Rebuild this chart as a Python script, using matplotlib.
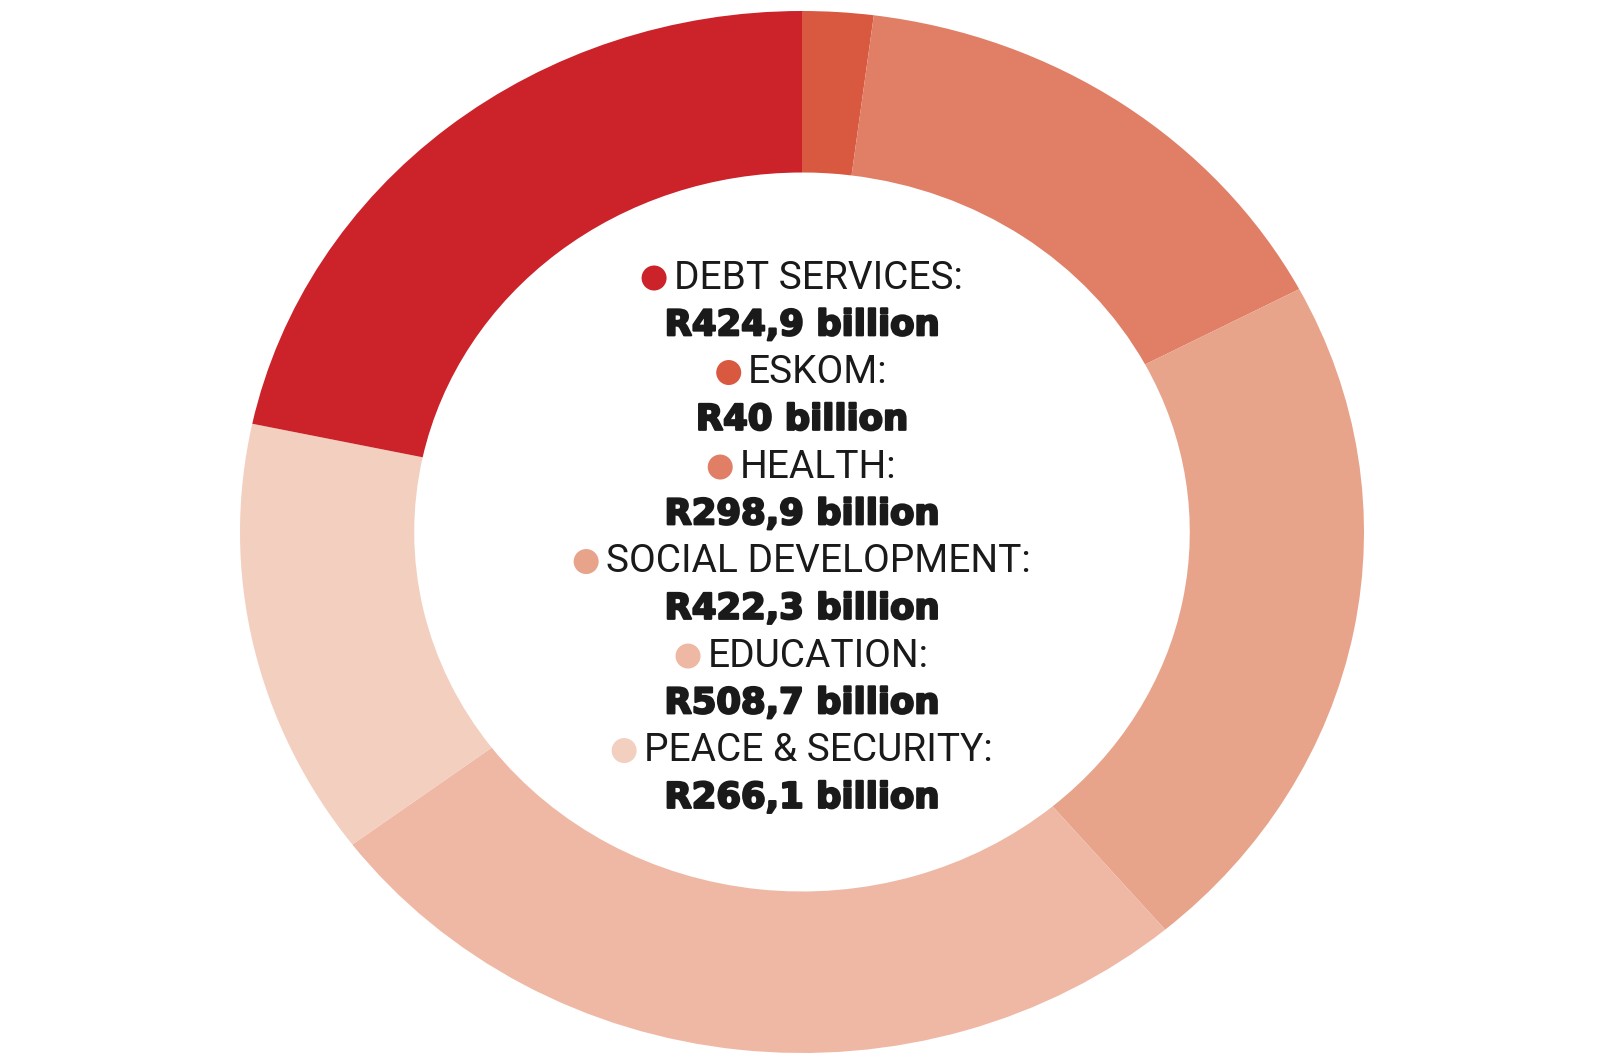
import matplotlib
matplotlib.use("Agg")
import matplotlib.pyplot as plt
import matplotlib.patheffects as pe
from matplotlib.offsetbox import DrawingArea, TextArea, HPacker, AnnotationBbox
from matplotlib.patches import Circle

# budget items in legend order
labels = ["DEBT SERVICES:", "ESKOM:", "HEALTH:", "SOCIAL DEVELOPMENT:",
          "EDUCATION:", "PEACE & SECURITY:"]
amounts = [424.9, 40, 298.9, 422.3, 508.7, 266.1]   # R billion
colors = ["#CC2229", "#D95840", "#E07E66", "#E8A38B", "#EFB8A4", "#F3CFC0"]

# ring order, clockwise from 12 o'clock: Eskom ... Debt
ring = [1, 2, 3, 4, 5, 0]

fig = plt.figure(figsize=(16, 10.63), dpi=100)
ax = fig.add_axes([0, 0, 1, 1])

ax.pie([amounts[i] for i in ring], colors=[colors[i] for i in ring],
       startangle=90, counterclock=False, radius=1.0,
       wedgeprops=dict(width=0.31, linewidth=0))

# the reference ring is slightly wider than tall
ax.set_aspect("auto")
ax.set_xlim(-802 / 562, (1600 - 802) / 562)
ax.set_ylim(-(1063 - 532) / 521, 532 / 521)
ax.axis("off")

label_font = ["Roboto", "DejaVu Sans"]
value_font = ["DejaVu Sans"]
ink = "#1a1a1a"
# no black weight installed, thicken the bold a bit
heavy = [pe.withStroke(linewidth=1.6, foreground=ink)]

y0, step = 0.4875, 0.0907
for k, (lab, amt, col) in enumerate(zip(labels, amounts, colors)):
    dot = DrawingArea(18, 18, 0, 0)
    dot.add_artist(Circle((9, 9), 9, facecolor=col, edgecolor="none"))
    txt = TextArea(lab, textprops=dict(fontsize=28, color=ink, family=label_font))
    row = HPacker(children=[dot, txt], sep=5, align="center", pad=0)
    ax.add_artist(AnnotationBbox(row, (0, y0 - 2 * k * step), xycoords="data",
                                 frameon=False, box_alignment=(0.5, 0.5), pad=0))

    val = "R" + f"{amt:g}".replace(".", ",") + " billion"
    ax.text(0, y0 - (2 * k + 1) * step, val, ha="center", va="center",
            fontsize=25.5, fontweight="bold", color=ink, family=value_font,
            path_effects=heavy)

fig.savefig("out.png", dpi=100, facecolor="white")
